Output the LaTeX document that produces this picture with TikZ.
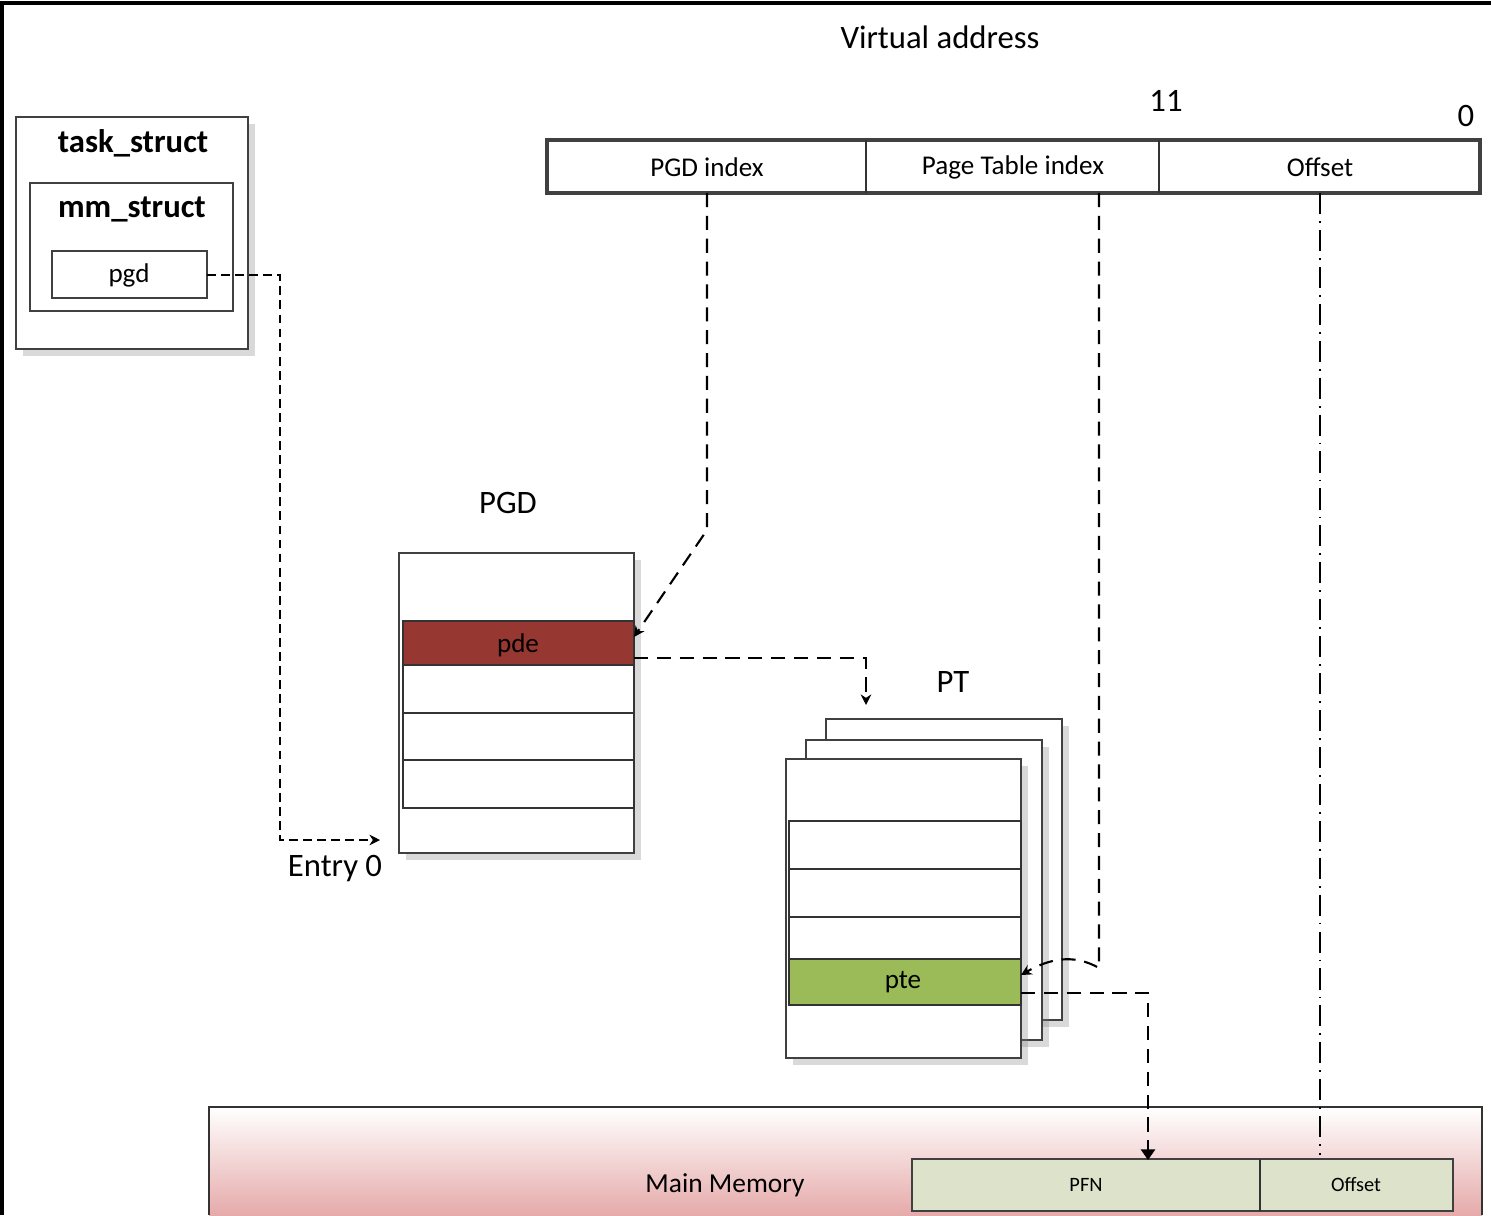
\documentclass[tikz,border=0pt]{standalone}
\usepackage{fontspec}
\setmainfont{Carlito}
\usetikzlibrary{shadows,arrows.meta}
\begin{document}
\begin{tikzpicture}[x=0.01cm,y=-0.01cm,
  box/.style={draw=black!75,line width=0.7pt,fill=white},
  sbox/.style={box,drop shadow={shadow xshift=2pt,shadow yshift=-2pt,opacity=0.3}},
  row/.style={draw=black!80,line width=0.7pt},
  dl/.style={dashed,line width=0.6pt,dash pattern=on 4pt off 2.5pt},
  txt/.style={inner sep=0pt,font=\fontsize{7.7}{8}\selectfont},
  big/.style={inner sep=0pt,font=\fontsize{9.3}{10}\selectfont},
  arr/.style={-{Stealth[length=3pt,width=3pt]}}]
\useasboundingbox (0,0) rectangle (1491,1215);
\draw[line width=1.2pt] (2,1215) -- (2,3) -- (1491,3);
% task struct
\draw[sbox] (16,117) rectangle (248,349);
\node[big,font=\bfseries\fontsize{9.3}{10}\selectfont] (ts) at (133,143) {task\_struct};
\draw[box] (30,183) rectangle (233,311);
\node[big,font=\bfseries\fontsize{9.3}{10}\selectfont] (mm) at (132,209) {mm\_struct};
\draw[box] (52,251) rectangle (207,298);
\node[txt] (pgdp) at (129,275) {pgd};
\coordinate (pgdr) at (207,275);
\coordinate (e0) at (380,840);
\draw[dl,dash pattern=on 2.5pt off 1.5pt,arr] (pgdr) -- (280,275) -- (280,840) -- (e0);
\node[big] (entry) at (335,869) {Entry 0};
% virtual address
\node[big] (va) at (940,37) {Virtual address};
\node[big] (n11) at (1166,101) {11};
\node[big] (n0) at (1466,116) {0};
\draw[box,line width=1pt] (547,140) rectangle (1480,193);
\draw[row] (866,140)--(866,193) (1159,140)--(1159,193);
\node[txt] (pgdi) at (707,167) {PGD index};
\node[txt] (pti) at (1013,167) {Page Table index};
\node[txt] (off) at (1320,167) {Offset};
% PGD
\node[big] (pgdl) at (508,503) {PGD};
\draw[sbox] (399,553) rectangle (634,853);
\fill[fill={rgb,255:red,150;green,55;blue,50}] (403,621) rectangle (634,665);
\draw[row] (403,621) rectangle (634,808);
\draw[row] (403,665)--(634,665) (403,713)--(634,713) (403,760)--(634,760);
\node[txt] (pde) at (518,645) {pde};
\coordinate (pdein) at (634,637);
\draw[dl,arr] (707,193) -- (707,530) -- (pdein);
\coordinate (ptin) at (866,705);
\draw[dl,arr] (634,658) -- (866,658) -- (ptin);
% PT
\node[big] (ptl) at (953,682) {PT};
\draw[sbox] (826,719) rectangle (1062,1020);
\draw[sbox] (806,740) rectangle (1042,1040);
\draw[sbox] (786,759) rectangle (1021,1058);
\fill[fill={rgb,255:red,155;green,187;blue,89}] (789,959) rectangle (1021,1005);
\draw[row] (789,821) rectangle (1021,1005);
\draw[row] (789,869)--(1021,869) (789,917)--(1021,917) (789,959)--(1021,959);
\node[txt] (pte) at (903,982) {pte};
\coordinate (ptein) at (1021,975);
\draw[dl,arr] (1099,193) -- (1099,968) to[out=150,in=30] (ptein);
% main memory
\shade[top color=white,bottom color={rgb,255:red,230;green,170;blue,170}] (209,1107) rectangle (1482,1215);
\draw[line width=0.8pt,draw=black!80] (209,1215) -- (209,1107) -- (1482,1107) -- (1482,1215);
\node[txt,font=\fontsize{7.8}{8}\selectfont] (mmem) at (725,1185) {Main Memory};
\draw[box,fill={rgb,255:red,221;green,227;blue,202}] (912,1159) rectangle (1453,1211);
\draw[row] (1260,1159)--(1260,1211);
\node[txt,font=\fontsize{5.8}{6}\selectfont] (pfn) at (1086,1185) {PFN};
\node[txt,font=\fontsize{5.8}{6}\selectfont] (off2) at (1356,1185) {Offset};
\coordinate (pfnin) at (1148,1160);
\draw[dl,-{Triangle[length=3pt,width=4pt]}] (1021,993) -- (1148,993) -- (pfnin);
\coordinate (offin) at (1320,1155);
\draw[line width=0.6pt,dash pattern=on 6pt off 2pt on 0.5pt off 2pt] (1320,193) -- (offin);
\end{tikzpicture}
\end{document}
